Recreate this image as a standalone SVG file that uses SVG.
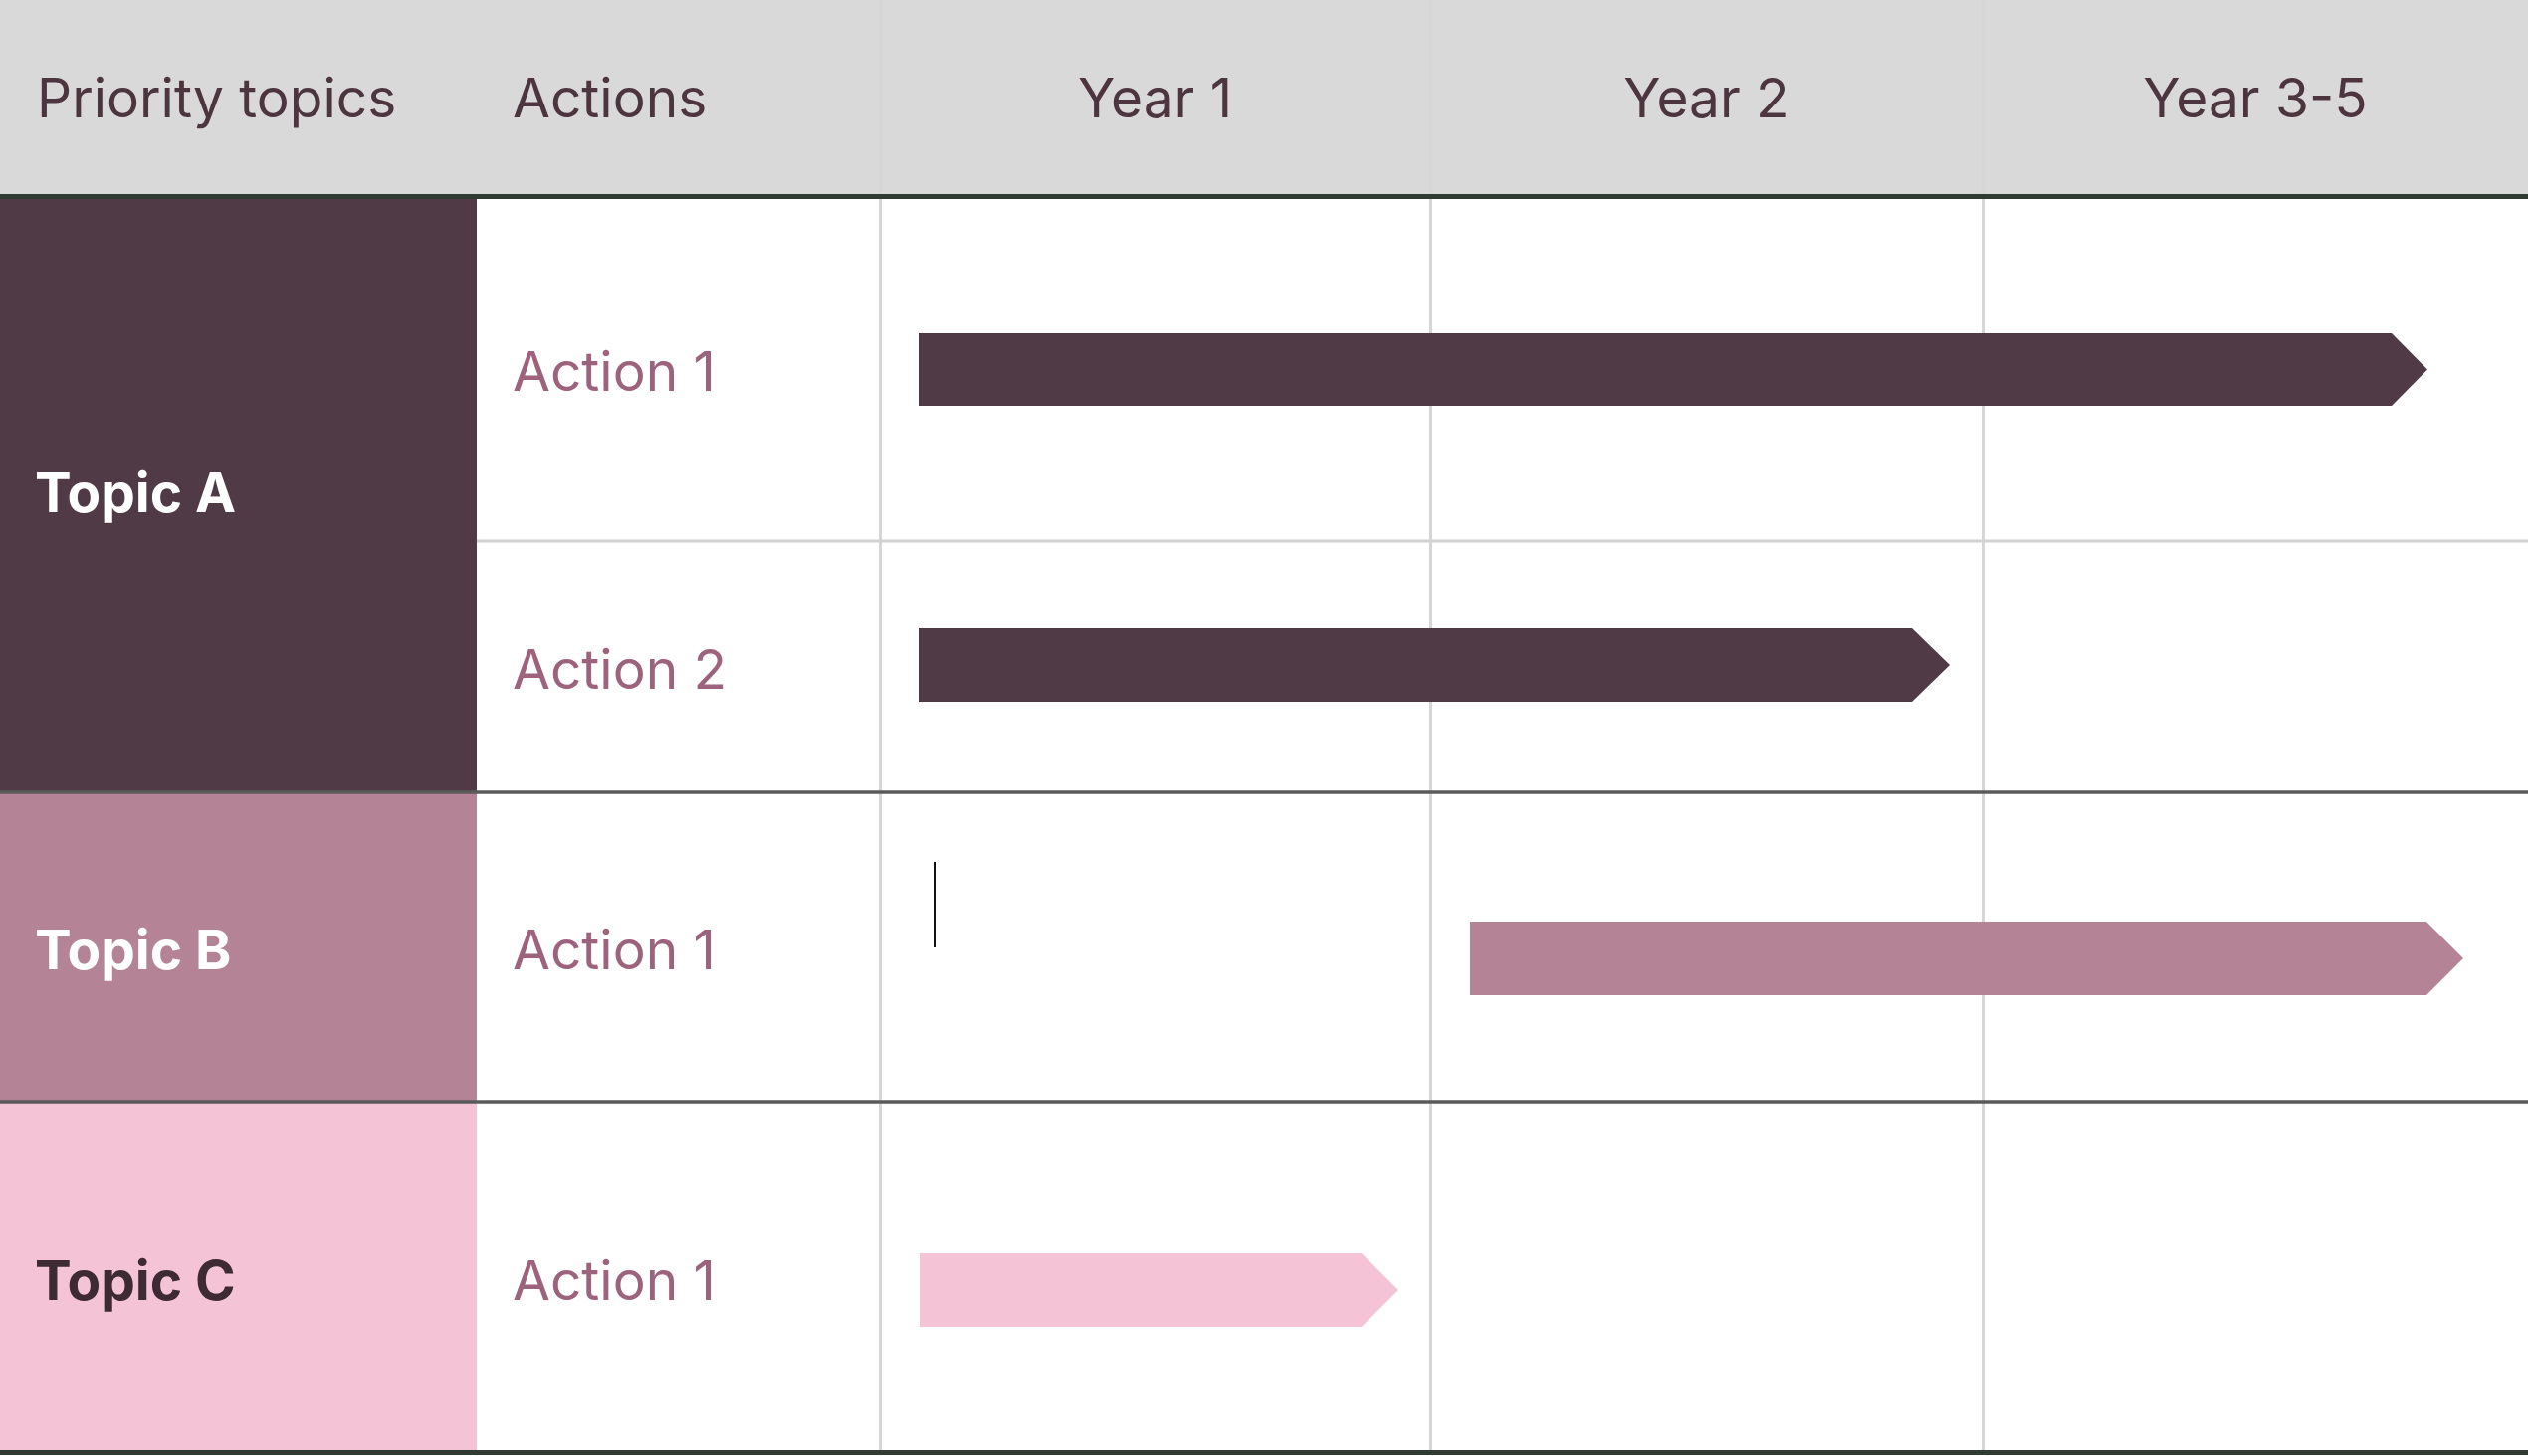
<svg xmlns="http://www.w3.org/2000/svg" width="2540" height="1463" viewBox="0 0 2540 1463">
  <style>
    text { font-family: Inter, "Liberation Sans", sans-serif; font-size: 55px; }
    .hdr { fill: #4d3540; }
    .act { fill: #9e637c; }
    .topic { font-weight: 700; }
    .vgrid { stroke: #d6d6d6; stroke-width: 3; }
    .hgrid { stroke: #d2d2d2; stroke-width: 3; }
    .rowdiv { stroke: #5a5a5a; stroke-width: 3.5; }
    .thick { stroke: #2f3b33; stroke-width: 5; }
  </style>
  <rect x="0" y="0" width="2540" height="1463" fill="#ffffff"/>
  <g id="header">
    <rect x="0" y="0" width="2540" height="197" fill="#d9d9d9"/>
    <text class="hdr" x="37" y="118">Priority topics</text>
    <text class="hdr" x="515" y="118">Actions</text>
    <text class="hdr" x="1160.5" y="118" text-anchor="middle">Year 1</text>
    <text class="hdr" x="1714.5" y="118" text-anchor="middle">Year 2</text>
    <text class="hdr" x="2266" y="118" text-anchor="middle">Year 3-5</text>
  </g>
  <g id="topicA">
    <rect x="0" y="197" width="479" height="600" fill="#503a45"/>
    <text class="topic" x="35" y="514" fill="#ffffff">Topic A</text>
  </g>
  <g id="topicB">
    <rect x="0" y="797" width="479" height="310" fill="#b48396"/>
    <text class="topic" x="35" y="974" fill="#ffffff">Topic B</text>
  </g>
  <g id="topicC">
    <rect x="0" y="1107" width="479" height="352" fill="#f4c3d6"/>
    <text class="topic" x="35" y="1306" fill="#3d2a33">Topic C</text>
  </g>
  <g id="grid">
    <line class="vgrid" x1="884.5" y1="0" x2="884.5" y2="1459"/>
    <line class="vgrid" x1="1437.5" y1="0" x2="1437.5" y2="1459"/>
    <line class="vgrid" x1="1992.5" y1="0" x2="1992.5" y2="1459"/>
    <line class="hgrid" x1="479" y1="544" x2="2540" y2="544"/>
    <line class="rowdiv" x1="0" y1="796" x2="2540" y2="796"/>
    <line class="rowdiv" x1="0" y1="1107" x2="2540" y2="1107"/>
    <line class="thick" x1="0" y1="197.5" x2="2540" y2="197.5"/>
    <line class="thick" x1="0" y1="1459.5" x2="2540" y2="1459.5"/>
  </g>
  <g id="actionA1">
    <text class="act" x="515" y="393">Action 1</text>
    <polygon points="923,335 2403,335 2439,371.5 2403,408 923,408" fill="#503a45"/>
  </g>
  <g id="actionA2">
    <text class="act" x="515" y="692">Action 2</text>
    <polygon points="923,631 1921,631 1959,668 1921,705 923,705" fill="#503a45"/>
  </g>
  <g id="actionB1">
    <text class="act" x="515" y="974">Action 1</text>
    <line x1="939" y1="866" x2="939" y2="952" stroke="#111111" stroke-width="2"/>
    <polygon points="1477,926 2438,926 2475,963 2438,1000 1477,1000" fill="#b48396"/>
  </g>
  <g id="actionC1">
    <text class="act" x="515" y="1306">Action 1</text>
    <polygon points="924,1259 1368,1259 1405,1296 1368,1333 924,1333" fill="#f4c3d6"/>
  </g>
  <g id="connectors"></g>
</svg>
